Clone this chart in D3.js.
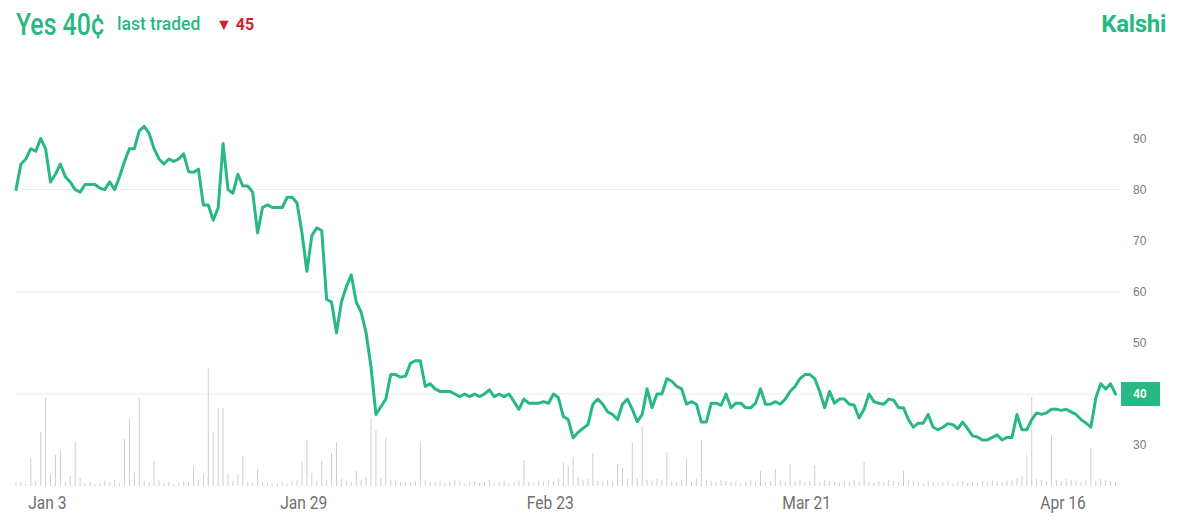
<!DOCTYPE html>
<html>
<head>
<meta charset="utf-8">
<script src="https://cdn.jsdelivr.net/npm/d3@7"></script>
<style>
  html, body { margin: 0; padding: 0; background: #fff; }
  svg { display: block; }
</style>
</head>
<body>
<svg id="chart" width="1200" height="525"></svg>
<script>
// ---- data ----
const startTime = Date.UTC(2024, 11, 30, 21); // first trade sample
const stepHours = 12;
const prices = [
  80, 85, 86, 88, 87.5, 90, 88, 81.5, 83, 85, 82.5, 81.5, 80, 79.5, 81, 81, 81, 80.3, 80, 81.5,
  80, 82.5, 85.5, 88, 88, 91.5, 92.4, 91, 88, 86, 85, 86, 85.5, 86, 87, 83.5, 83.4, 84, 77, 77,
  74, 76.4, 89, 80, 79.3, 83, 80.7, 80.7, 79.5, 71.5, 76.5, 77, 76.5, 76.5, 76.5, 78.5, 78.5, 77.4, 71.5, 64,
  71, 72.5, 72, 58.5, 58, 52, 58, 61, 63.3, 58, 56, 52, 45.3, 36, 37.5, 39, 43.8, 43.8, 43.3, 43.5,
  46, 46.5, 46.5, 41.5, 42, 41, 40.5, 40.5, 40.5, 40, 39.5, 40, 39.5, 40, 39.5, 40, 40.8, 39.5, 40, 39.5,
  40, 38.5, 37, 39, 38.2, 38.2, 38.2, 38.5, 38.2, 40, 39.3, 35.6, 35, 31.4, 32.5, 33.3, 34, 38, 39, 38,
  36.5, 36, 35, 38, 39, 37, 34.6, 36, 41, 37.3, 40, 40, 43, 42.5, 41.5, 41, 38, 38.5, 38, 34.5,
  34.5, 38.2, 38.2, 37.8, 40, 37.3, 38.2, 38.2, 37.3, 37.3, 38.2, 41, 38, 38, 38.5, 38, 39, 40.5, 41.5, 43,
  43.8, 43.8, 43, 40.5, 37.3, 40.5, 38.2, 39, 39, 38, 37.8, 35.3, 37, 40, 38.5, 38.2, 38, 39, 38.8, 37.3,
  37.3, 35, 33.5, 34.3, 34.3, 36, 33.5, 33, 33.5, 34.2, 34, 33.2, 34.5, 33.2, 31.8, 31.6, 31, 31, 31.5, 32,
  31, 31.5, 31.5, 36, 33, 33, 35, 36.3, 36, 36.3, 37, 37, 36.8, 37, 36.5, 36, 35, 34.3, 33.5, 39.2, 42, 41, 42, 40
];
const volume = [
  3, 4, 2, 28, 5, 54, 88, 12, 31, 36, 4, 10, 44, 8, 3, 4, 2, 3, 5, 4,
  6, 3, 47, 67, 14, 88, 5, 4, 25, 6, 3, 4, 2, 3, 5, 4, 20, 6, 12, 118,
  54, 78, 78, 13, 5, 12, 30, 4, 3, 17, 4, 3, 2, 3, 4, 3, 5, 6, 24, 46,
  13, 5, 25, 6, 33, 44, 7, 5, 4, 15, 6, 9, 67, 56, 8, 48, 6, 5, 4, 3,
  4, 5, 44, 6, 3, 4, 5, 3, 4, 6, 5, 3, 4, 5, 3, 4, 6, 3, 4, 5,
  3, 4, 5, 26, 4, 3, 5, 4, 6, 5, 8, 24, 20, 29, 9, 6, 7, 33, 5, 4,
  6, 5, 22, 18, 7, 43, 8, 59, 6, 5, 7, 6, 34, 5, 4, 6, 28, 5, 7, 46,
  6, 5, 4, 6, 5, 4, 5, 3, 4, 6, 5, 15, 4, 5, 17, 6, 4, 22, 5, 6,
  4, 5, 21, 4, 6, 5, 4, 3, 5, 4, 6, 5, 24, 4, 3, 5, 4, 6, 5, 4,
  15, 6, 5, 4, 3, 5, 4, 3, 4, 5, 3, 4, 5, 3, 4, 3, 5, 4, 6, 5,
  4, 5, 6, 8, 10, 31, 89, 7, 6, 5, 51, 6, 5, 7, 6, 5, 4, 6, 38, 5, 7, 6, 5, 4
];
const priceTicks = [30, 40, 50, 60, 70, 80, 90];
const gridValues = [40, 60, 80];
const dateTicks = ["2025-01-03", "2025-01-29", "2025-02-23", "2025-03-21", "2025-04-16"];
const dateTickLabels = ["Jan 3", "Jan 29", "Feb 23", "Mar 21", "Apr 16"];
const previousPrice = 45;

// ---- layout ----
const GREEN = "#27b883";
const svg = d3.select("#chart");
const DAY = 86400000;
const times = prices.map((_, i) => new Date(startTime + i * stepHours * 3600000));

const x = d3.scaleUtc()
  .domain([new Date(startTime), new Date(startTime + 111.75 * DAY)])
  .range([16, 1118]);
const y = d3.scaleLinear().domain([20, 100]).range([496.2, 87.4]);
const volBase = 486;
const vh = d3.scaleLinear().domain([0, d3.max(volume)]).range([0, 118]);

// grid
svg.append("g").selectAll("line").data(gridValues).join("line")
  .attr("x1", 16).attr("x2", 1120)
  .attr("y1", d => y(d)).attr("y2", d => y(d))
  .attr("stroke", "#ececec").attr("stroke-width", 1);

// volume bars
svg.append("g").selectAll("rect").data(volume).join("rect")
  .attr("x", (d, i) => x(times[i]) - 0.5)
  .attr("width", 1)
  .attr("y", d => volBase - vh(d))
  .attr("height", d => vh(d))
  .attr("fill", "#cfcfcf");

// price line
const line = d3.line()
  .x((d, i) => x(times[i]))
  .y(d => y(d));
svg.append("path")
  .datum(prices)
  .attr("d", line)
  .attr("fill", "none")
  .attr("stroke", GREEN)
  .attr("stroke-width", 3)
  .attr("stroke-linejoin", "round")
  .attr("stroke-linecap", "round");

// right axis
const yAxis = d3.axisRight(y).tickValues(priceTicks).tickSize(0).tickPadding(9).tickFormat(d3.format("d"));
const gy = svg.append("g").attr("transform", "translate(1124,0)").call(yAxis);
gy.select(".domain").remove();
gy.selectAll("text")
  .attr("fill", "#7a7a7a")
  .style("font-family", "'Liberation Sans', Arial, sans-serif")
  .style("font-size", "12px");

// last price tag
const last = prices[prices.length - 1];
svg.append("rect")
  .attr("x", 1121).attr("y", y(last) - 12)
  .attr("width", 39).attr("height", 24)
  .attr("fill", GREEN);
svg.append("text")
  .attr("x", 1140).attr("y", y(last))
  .attr("dy", "0.35em")
  .attr("text-anchor", "middle")
  .attr("fill", "#fff")
  .style("font-family", "'Liberation Sans', Arial, sans-serif")
  .style("font-size", "12px")
  .style("font-weight", "bold")
  .text(d3.format("d")(last));

// bottom axis (condensed look via horizontal scaling)
const xAxis = d3.axisBottom(x)
  .tickValues(dateTicks.map(d => new Date(d + "T00:00:00Z")))
  .tickSize(0).tickPadding(0)
  .tickFormat((d, i) => dateTickLabels[i]);
const gx = svg.append("g").attr("transform", "translate(0,509)").call(xAxis);
gx.select(".domain").remove();
gx.selectAll("text")
  .attr("y", 0).attr("dy", 0)
  .attr("transform", "scale(0.82,1)")
  .attr("fill", "#6f6f6f")
  .style("font-family", "Roboto, 'Liberation Sans', sans-serif")
  .style("font-size", "19px");

// header
svg.append("text")
  .attr("transform", "translate(16,35) scale(0.8,1)")
  .attr("fill", GREEN)
  .style("font-family", "Roboto, 'Liberation Sans', sans-serif")
  .style("font-size", "31px")
  .style("font-weight", "500")
  .text("Yes " + d3.format("d")(last) + "¢");
svg.append("text")
  .attr("x", 117).attr("y", 30)
  .attr("fill", GREEN)
  .style("font-family", "Roboto, 'Liberation Sans', sans-serif")
  .style("font-size", "17.5px")
  .style("font-weight", "500")
  .text("last traded");
svg.append("text")
  .attr("x", 216).attr("y", 30)
  .attr("fill", "#d2232a")
  .style("font-family", "Roboto, 'Liberation Sans', sans-serif")
  .style("font-size", "16px")
  .style("font-weight", "bold")
  .text("▼ " + previousPrice);
svg.append("text")
  .attr("x", 1166).attr("y", 32)
  .attr("text-anchor", "end")
  .attr("fill", GREEN)
  .style("font-family", "Roboto, 'Liberation Sans', sans-serif")
  .style("font-size", "24px")
  .style("font-weight", "bold")
  .style("letter-spacing", "-0.3px")
  .text("Kalshi");
</script>
</body>
</html>
